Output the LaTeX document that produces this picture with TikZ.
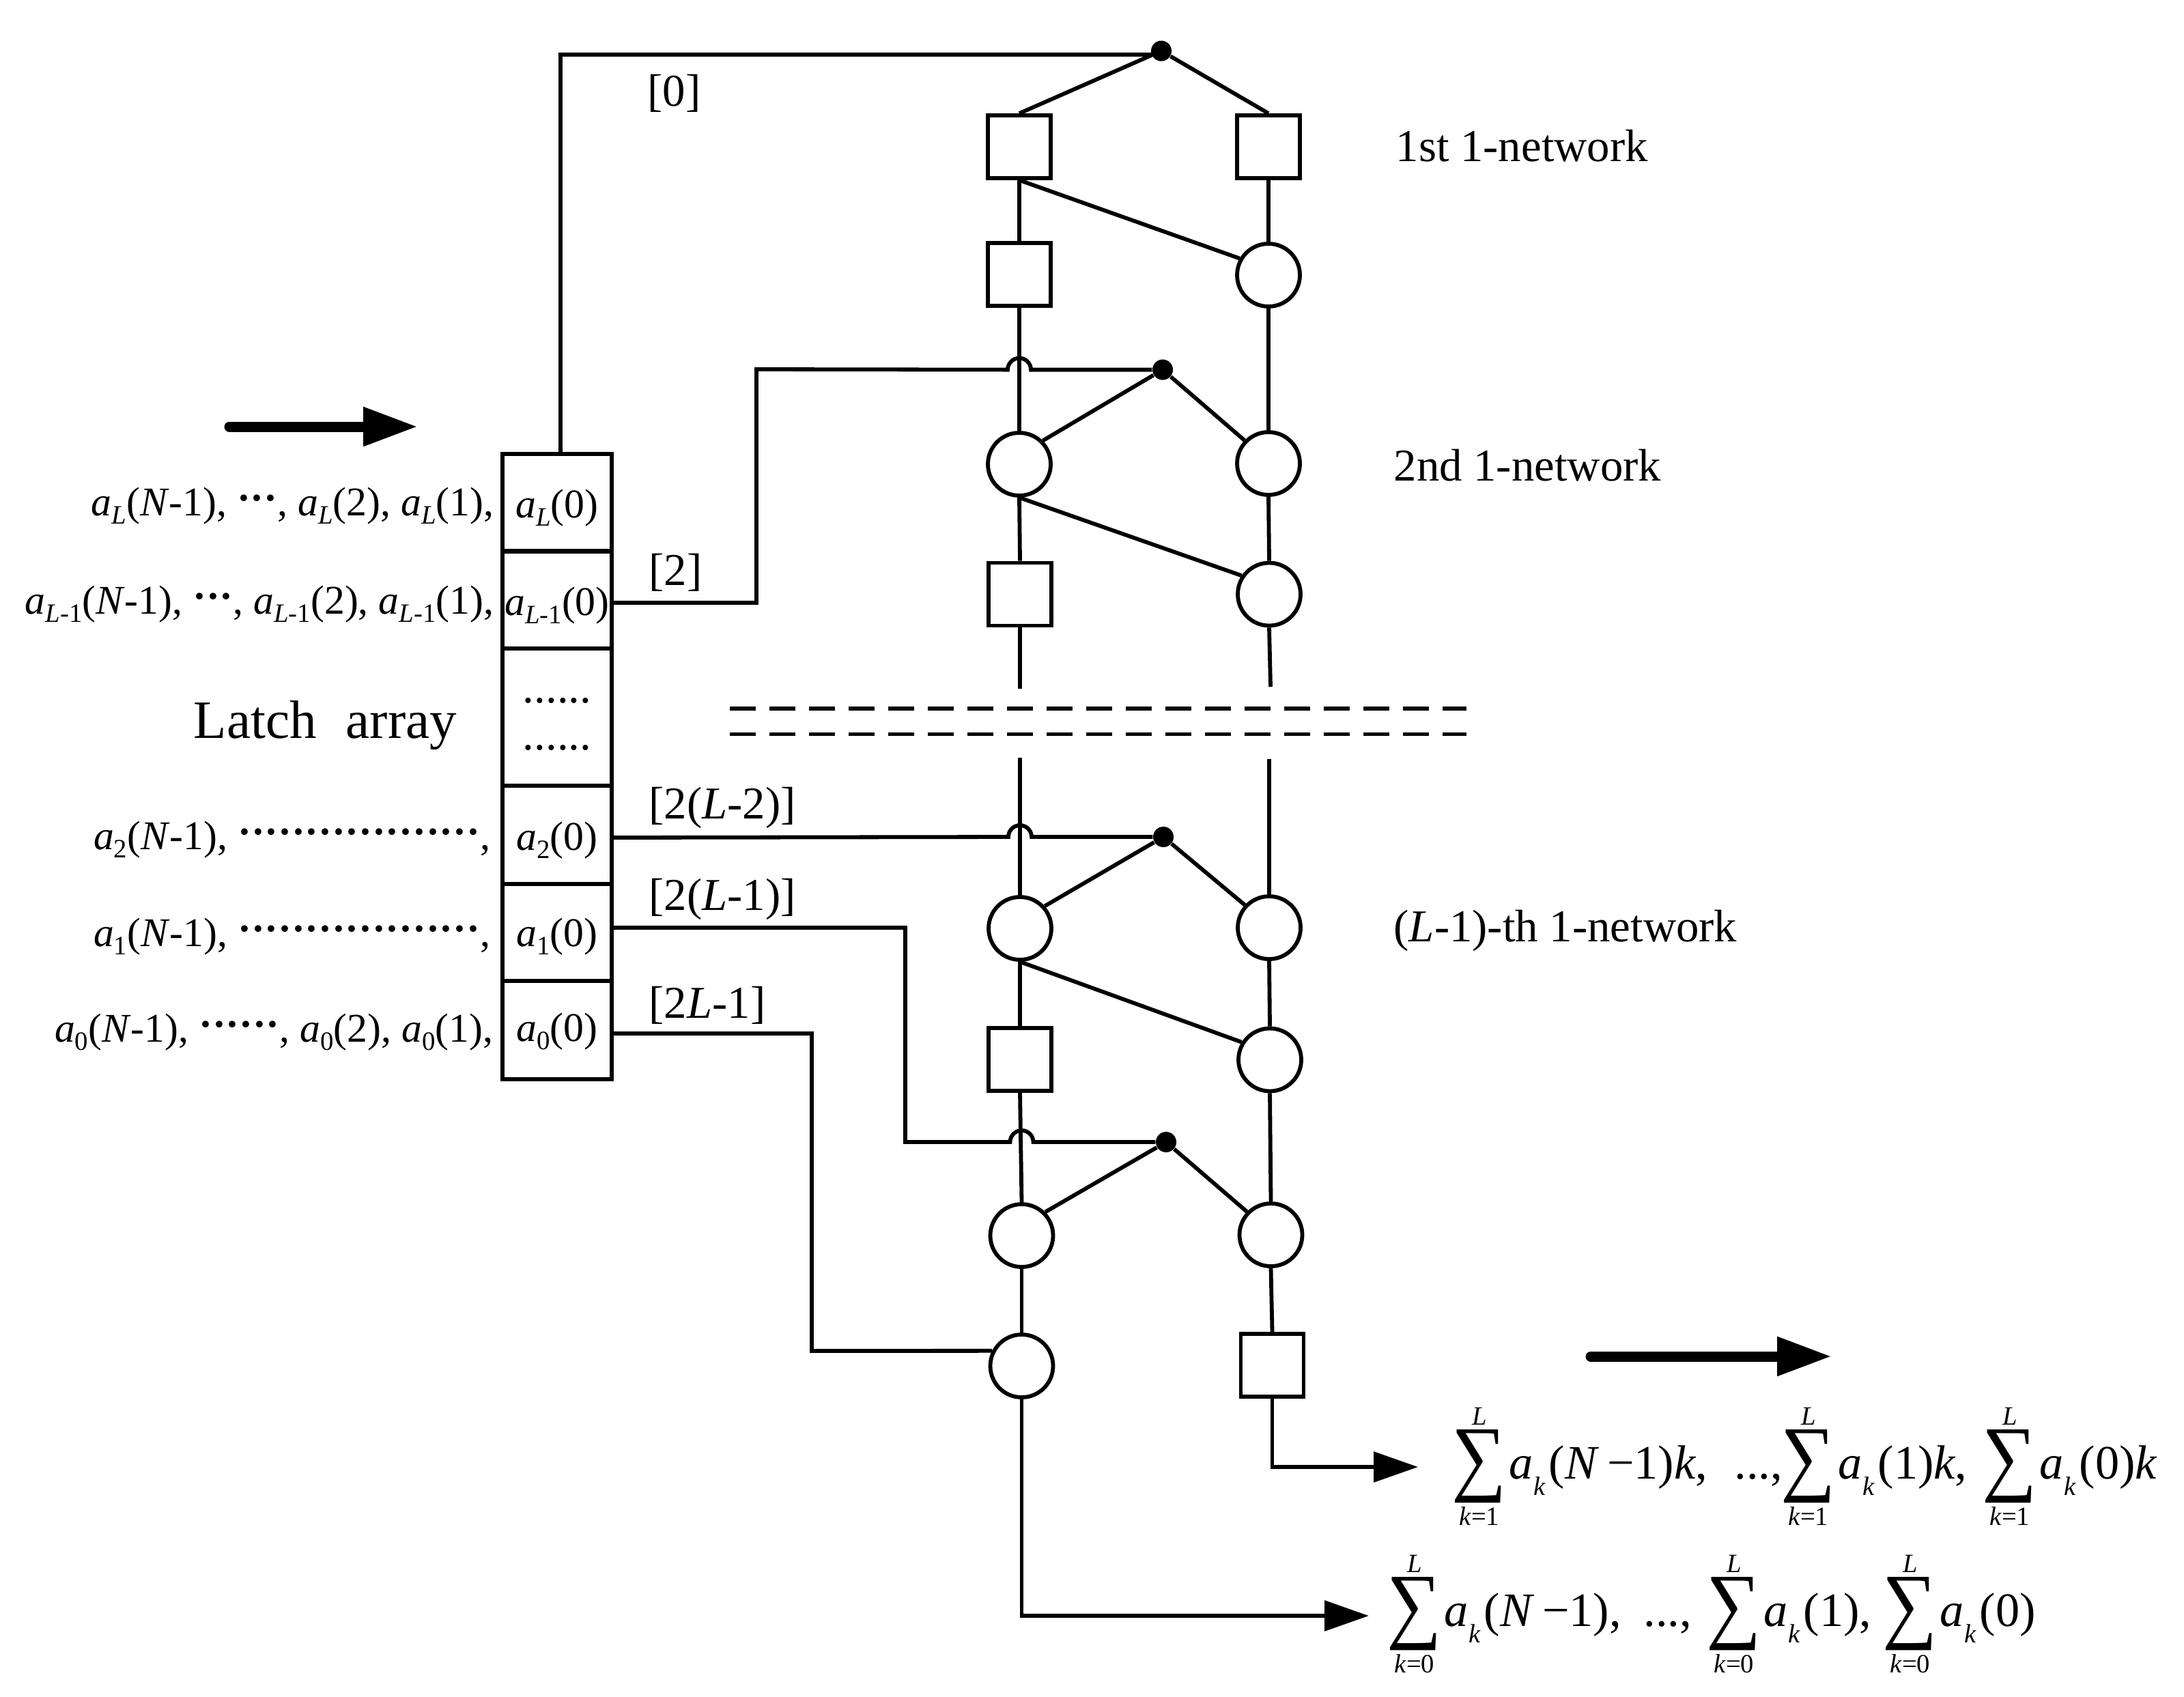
\documentclass[tikz,border=0pt]{standalone}
\usepackage{fontspec}
\usepackage{graphicx}
\usepackage{tikz}
\usetikzlibrary{arrows.meta}
\setmainfont{Liberation Serif}

\newcommand{\lowsub}[1]{\raisebox{-0.45ex}{\scalebox{0.65}{#1}}}
\newcommand{\va}[2]{\textit{a}\lowsub{#1}(#2)}
\newcommand{\dotrow}[1]{\foreach \i in {1,...,#1}{\makebox[0.33em]{\raisebox{0.1em}{\textbf{·}}}}}
\newcommand{\limtxt}[1]{\hbox{\fontsize{11}{11}\selectfont #1}}
\newcommand{\sumk}[1]{\ensuremath{\mathop{\raisebox{-0.09cm}{\scalebox{1}[1.1]{\fontsize{32}{32}\selectfont ∑}}}\limits_{\limtxt{\textit{k}=#1}}^{\limtxt{\textit{L}}}}}
\newcommand{\akterm}{\kern0.04cm\textit{a}\raisebox{-0.24cm}{\scalebox{0.55}{\textit{k}}}\kern0.05cm}

\tikzset{
	wire/.style={line width=0.058cm},
	sq/.style={draw,wire,rectangle,inner sep=0,minimum size=0.92cm},
	cir/.style={draw,wire,circle,inner sep=0,minimum size=0.92cm},
	junc/.style={circle,fill,inner sep=0,minimum size=0.3cm},
	cell/.style={draw,wire,rectangle,inner sep=0,minimum width=1.60cm,text height=0.56cm,text depth=0.12cm,font=\fontsize{17}{20}\selectfont},
	tipped/.style={wire,-{Triangle[length=0.65cm,width=0.44cm]}},
	bold/.style={line width=0.15cm,line cap=round,-{Triangle[length=0.8cm,width=0.54cm]}},
	inlbl/.style={inner sep=0,anchor=base east,font=\fontsize{17}{20}\selectfont},
	idx/.style={inner sep=0,anchor=base west,font=\fontsize{19}{22}\selectfont},
	net/.style={inner sep=0,anchor=base west,font=\fontsize{19}{23}\selectfont},
	sumlbl/.style={inner sep=0,anchor=base west,font=\fontsize{20}{24}\selectfont}
}

\begin{document}
\begin{tikzpicture}
	\useasboundingbox (0,0) rectangle (31.99,-24.85);

	% latch cells
	\node[cell,minimum height=1.42cm] (cellL) at (8.16,-7.36) {\va{\textit{L}}{0}};
	\node[cell,minimum height=1.42cm] (cellK) at (8.16,-8.79) {\va{\textit{L}-1}{0}};
	\node[cell,minimum height=2.01cm] (cellD) at (8.16,-10.50) {};
	\node[cell,minimum height=1.44cm] (cellB) at (8.16,-12.23) {\va{2}{0}};
	\node[cell,minimum height=1.42cm,text height=0.52cm] (cellA) at (8.16,-13.66) {\va{1}{0}};
	\node[cell,minimum height=1.44cm,text height=0.44cm] (cellZ) at (8.16,-15.09) {\va{0}{0}};
	\node[inlbl,anchor=base,font=\fontsize{19}{20}\selectfont] (dotsA) at (8.16,-10.29) {......};
	\node[inlbl,anchor=base,font=\fontsize{19}{20}\selectfont] (dotsB) at (8.16,-10.98) {......};

	% input sequences
	\node[inlbl] (inL) at (7.24,-7.55) {\va{\textit{L}}{\textit{N}-1}, \dotrow{3}, \va{\textit{L}}{2}, \va{\textit{L}}{1},};
	\node[inlbl] (inK) at (7.24,-8.99) {\va{\textit{L}-1}{\textit{N}-1}, \dotrow{3}, \va{\textit{L}-1}{2}, \va{\textit{L}-1}{1},};
	\node[inlbl] (inB) at (7.19,-12.44) {\va{2}{\textit{N}-1}, \dotrow{18},};
	\node[inlbl] (inA) at (7.19,-13.86) {\va{1}{\textit{N}-1}, \dotrow{18},};
	\node[inlbl] (inZ) at (7.23,-15.26) {\va{0}{\textit{N}-1}, \dotrow{6}, \va{0}{2}, \va{0}{1},};
	\node[inner sep=0,anchor=base west,font=\fontsize{22.5}{28}\selectfont] (latch) at (2.83,-10.81) {Latch\hspace{0.43cm}array};

	% squares and circles
	\foreach \n/\x/\y in {s1a/14.93/-2.15,s1b/18.58/-2.15,s2/14.93/-4.02,s3/14.94/-8.705,s4/14.94/-15.52,s5/18.635/-20.00}
	\node[sq] (\n) at (\x,\y) {};
	\foreach \n/\x/\y in {c1/18.58/-4.03,c2a/14.93/-6.80,c2b/18.58/-6.79,c3/18.59/-8.705,c4a/14.94/-13.60,c4b/18.59/-13.59,c5/18.60/-15.525,c6a/14.965/-18.10,c6b/18.615/-18.09,c7/14.965/-20.01}
	\node[cir] (\n) at (\x,\y) {};
	\foreach \n/\x/\y in {j1/17.01/-0.746,j2/17.03/-5.416,j3/17.04/-12.26,j4/17.08/-16.73}
	\node[junc] (\n) at (\x,\y) {};

	% vertical runs
	\foreach \a/\b in {s1a/s2,s1b/c1,s2/c2a,c1/c2b,c2a/s3,c2b/c3,c4a/s4,c4b/c5,s4/c6a,c5/c6b,c6a/c7,c6b/s5}
	\draw[wire] (\a.south) -- (\b.north);

	% broken ends and the double dashed row
	\coordinate (e3a) at (14.94,-10.09);
	\coordinate (e3b) at (18.61,-10.06);
	\coordinate (e4a) at (14.94,-11.10);
	\coordinate (e4b) at (18.59,-11.12);
	\draw[wire] (s3.south) -- (e3a);
	\draw[wire] (c3.south) -- (e3b);
	\draw[wire] (e4a) -- (c4a.north);
	\draw[wire] (e4b) -- (c4b.north);
	\foreach \y in {-10.378,-10.755} {
		\coordinate (gl) at (10.69,\y);
		\coordinate (gr) at (21.48,\y);
		\draw[wire,dash pattern=on 0.38cm off 0.20cm] (gl) -- (gr);
	}

	% slanted links
	\draw[wire] (j1) -- (s1a.north);
	\draw[wire] (j1) -- (s1b.north);
	\draw[wire] (s1a.south) -- (c1.150);
	\draw[wire] (j2) -- (c2a.45);
	\draw[wire] (j2) -- (c2b.136);
	\draw[wire] (c2a.south) -- (c3.146);
	\draw[wire] (j3) -- (c4a.42);
	\draw[wire] (j3) -- (c4b.137);
	\draw[wire] (c4a.south) -- (c5.148);
	\draw[wire] (j4) -- (c6a.45);
	\draw[wire] (j4) -- (c6b.136);

	% feeds from the cells
	\coordinate (t2) at (11.08,-5.41);
	\coordinate (t1) at (13.26,-16.73);
	\coordinate (t0) at (11.89,-19.79);
	\coordinate (x2) at (s2.south |- j2);
	\coordinate (x3) at (s3.south |- j3);
	\coordinate (x4) at (14.965,-16.73);
	\draw[wire] ([xshift=0.05cm]cellL.north) |- ([yshift=-0.05cm]j1.center);
	\draw[wire] ([yshift=-0.04cm]cellK.east) -| (t2) -- ([xshift=-0.17cm]x2) arc[start angle=180,end angle=0,radius=0.17] -- (j2);
	\draw[wire] ([yshift=-0.04cm]cellB.east) -- ([xshift=-0.17cm]x3) arc[start angle=180,end angle=0,radius=0.17] -- (j3);
	\draw[wire] ([yshift=0.07cm]cellA.east) -| (t1) -- ([xshift=-0.17cm]x4) arc[start angle=180,end angle=0,radius=0.17] -- (j4);
	\draw[wire] ([yshift=-0.05cm]cellZ.east) -| (t0) -- (c7.153);

	% index labels
	\node[idx] (i0) at (9.48,-1.55) {[0]};
	\node[idx] (i2) at (9.50,-8.57) {[2]};
	\node[idx] (i4) at (9.50,-11.99) {[2(\textit{L}-2)]};
	\node[idx] (i5) at (9.50,-13.33) {[2(\textit{L}-1)]};
	\node[idx] (i6) at (9.50,-14.91) {[2\textit{L}-1]};

	% network labels
	\node[net] (n1) at (20.44,-2.36) {1st 1-network};
	\node[net] (n2) at (20.41,-7.04) {2nd 1-network};
	\node[net] (n3) at (20.41,-13.79) {(\textit{L}-1)-th 1-network};

	% direction arrows
	\coordinate (ai) at (3.36,-6.25);
	\coordinate (aj) at (6.12,-6.25);
	\coordinate (ak) at (23.30,-19.87);
	\coordinate (al) at (26.83,-19.87);
	\draw[bold] (ai) -- (aj);
	\draw[bold] (ak) -- (al);

	% outputs
	\coordinate (o1) at (20.77,-21.49);
	\coordinate (o2) at (20.05,-23.67);
	\draw[tipped] (s5.south) |- (o1);
	\draw[tipped] (c7.south) |- (o2);
	\node[sumlbl] (r1a) at (21.26,-21.66) {\sumk{1}\akterm(\textit{N}\,−1)\textit{k},};
	\node[sumlbl] (r1b) at (25.40,-21.66) {...,};
	\node[sumlbl] (r1c) at (26.08,-21.66) {\sumk{1}\akterm(1)\textit{k},};
	\node[sumlbl] (r1d) at (29.03,-21.66) {\sumk{1}\akterm(0)\textit{k}};
	\node[sumlbl] (r2a) at (20.31,-23.82) {\sumk{0}\akterm(\textit{N}\,−1),};
	\node[sumlbl] (r2b) at (24.07,-23.82) {...,};
	\node[sumlbl] (r2c) at (24.99,-23.82) {\sumk{0}\akterm(1),};
	\node[sumlbl] (r2d) at (27.57,-23.82) {\sumk{0}\akterm(0)};
\end{tikzpicture}
\end{document}
